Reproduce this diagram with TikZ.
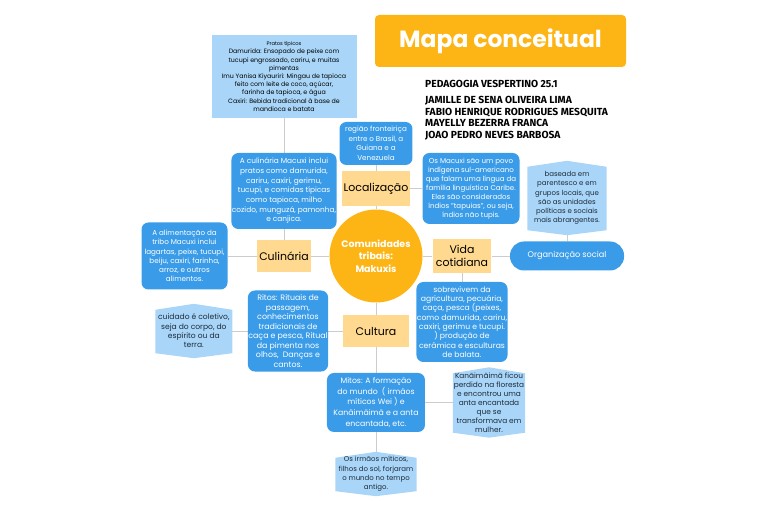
\documentclass[tikz,border=0pt]{standalone}
\usepackage{fontspec}
\setmainfont{Poppins}
\newfontfamily\namefont{Fira Sans}
\usetikzlibrary{backgrounds}

\definecolor{mapblue}{HTML}{3A9CE8}
\definecolor{mappale}{HTML}{A9D6F8}
\definecolor{mapsand}{HTML}{FFD98F}
\definecolor{maporange}{HTML}{FDB515}
\definecolor{mapwire}{HTML}{CCCCCC}
\definecolor{mapink}{HTML}{1D2B3A}

\tikzset{
	wire/.style={draw=mapwire, line width=0.9pt},
	bluebox/.style={fill=mapblue, text=white, rounded corners=7pt, align=center, inner sep=0.5pt, font=\fontsize{7.4}{9.7}\selectfont},
	palebox/.style={text=mapink, align=center, inner sep=0.5pt, font=\fontsize{7}{9.2}\selectfont},
	topicbox/.style={fill=mapsand, text=black, align=center, inner sep=1pt, font=\fontsize{11}{12.5}\selectfont},
}

\begin{document}
\begin{tikzpicture}
		\useasboundingbox (0, 0) rectangle (27.093, 18.062);
		% Title and authors:
		\node[fill=maporange, rounded corners=4pt, minimum width=8.855cm, minimum height=1.834cm, text=white, font=\bfseries\fontsize{23.5}{27}\selectfont] (title) at (17.657, 16.616){Mapa conceitual};
		\node[anchor=west, inner sep=0pt, font=\namefont\bfseries\fontsize{10.3}{12}\selectfont] (course) at (14.993, 15.099){PEDAGOGIA VESPERTINO 25.1};
		\node[anchor=north west, align=left, inner sep=0pt, font=\namefont\bfseries\fontsize{10.3}{12}\selectfont] (names) at (14.993, 14.690){JAMILLE DE SENA OLIVEIRA LIMA\\FABIO HENRIQUE RODRIGUES MESQUITA\\MAYELLY BEZERRA FRANCA\\JOAO PEDRO NEVES BARBOSA};
		% Nodes:
		\node[circle, fill=maporange, minimum size=3.281cm, text=white, align=center, font=\bfseries\fontsize{9.5}{12.5}\selectfont] (hub) at (13.264, 9.031){Comunidades\\tribais:\\Makuxis};
		\node[topicbox, minimum width=2.399cm, minimum height=1.235cm] (local) at (13.264, 11.413){Localização};
		\node[topicbox, minimum width=1.905cm, minimum height=1.129cm] (culinaria) at (10.019, 9.031){Culinária};
		\node[topicbox, minimum width=2.081cm, minimum height=1.199cm] (vida) at (16.298, 9.031){Vida\\cotidiana};
		\node[topicbox, minimum width=2.328cm, minimum height=1.129cm] (cultura) at (13.264, 6.385){Cultura};
		\node[fill=mappale, text=black, align=center, inner sep=0.5pt, minimum width=5.115cm, minimum height=2.928cm, font=\fontsize{6.3}{8.2}\selectfont] (pratos) at (10.019, 15.363){{\fontsize{5.2}{6}\selectfont Pratos típicos}\\Damurida: Ensopado de peixe com\\tucupi engrossado, cariru, e muitas\\pimentas\\Imu Yanisa Kiyauriri: Mingau de tapioca\\feito com leite de coco, açúcar,\\farinha de tapioca, e água\\Caxiri: Bebida tradicional à base de\\mandioca e batata};
		\node[bluebox, minimum width=3.634cm, minimum height=2.681cm] (culbox) at (10.019, 11.324){A culinária Macuxi inclui\\pratos como damurida,\\cariru, caxiri, gerimu,\\tucupi, e comidas típicas\\como tapioca, milho\\cozido, munguzá, pamonha,\\e canjica.};
		\node[bluebox, minimum width=3.034cm, minimum height=2.364cm, font=\fontsize{7.2}{9.3}\selectfont] (aliment) at (6.509, 9.031){A alimentação da\\tribo Macuxi inclui\\lagartas, peixe, tucupi,\\beiju, caxiri, farinha,\\arroz, e outros\\alimentos.};
		\node[bluebox, minimum width=2.575cm, minimum height=1.517cm, font=\fontsize{7.2}{9.6}\selectfont] (regiao) at (13.264, 13.000){região fronteiriça\\entre o Brasil, a\\Guiana e a\\Venezuela};
		\node[bluebox, minimum width=3.422cm, minimum height=2.505cm, font=\fontsize{7.1}{9}\selectfont] (macuxi) at (16.616, 11.413){Os Macuxi são um povo\\indígena sul-americano\\que falam uma língua da\\família linguística Caribe.\\Eles são considerados\\índios "tapuias", ou seja,\\índios não tupis.};
		\node[bluebox, rounded corners=14pt, minimum width=4.022cm, minimum height=1.023cm, font=\fontsize{8.2}{9.5}\selectfont] (org) at (20.003, 9.031){Organização social};
		\node[palebox, minimum width=2.787cm, minimum height=2.611cm] (parentesco) at (20.003, 11.077){baseada em\\parentesco e em\\grupos locais, que\\são as unidades\\políticas e sociais\\mais abrangentes.};
		\node[bluebox, minimum width=3.104cm, minimum height=2.822cm, font=\fontsize{7.7}{9.4}\selectfont] (sobre) at (16.298, 6.703){sobrevivem da\\agricultura, pecuária,\\caça, pesca (peixes,\\como damurida, cariru,\\caxiri, gerimu e tucupi.\\) produção de\\cerâmica e esculturas\\de balata.};
		\node[bluebox, minimum width=2.822cm, minimum height=2.858cm, font=\fontsize{7.9}{9.6}\selectfont] (ritos) at (10.160, 6.385){Ritos: Rituais de\\passagem,\\conhecimentos\\tradicionais de\\caça e pesca, Ritual\\da pimenta nos\\olhos,~ Danças e\\cantos.};
		\node[palebox, minimum width=2.700cm, minimum height=1.905cm, font=\fontsize{7.6}{9.4}\selectfont] (cuidado) at (6.838, 6.385){cuidado é coletivo,\\seja do corpo, do\\espírito ou da\\terra.};
		\node[bluebox, minimum width=3.457cm, minimum height=2.081cm, font=\fontsize{7.8}{10.8}\selectfont] (mitos) at (13.264, 3.863){Mitos: A formação\\do mundo~ ( irmãos\\míticos Wei ) e\\Kanãimãimã e a anta\\encantada, etc.};
		\node[palebox, minimum width=2.540cm, minimum height=2.469cm, font=\fontsize{7.4}{9}\selectfont] (kana) at (17.251, 3.863){Kanãimãimã ficou\\perdido na floresta\\e encontrou uma\\anta encantada\\que se\\transformava em\\mulher.};
		\node[palebox, minimum width=2.858cm, minimum height=1.552cm, font=\fontsize{7}{9.3}\selectfont] (irmaos) at (13.264, 1.341){Os irmãos míticos,\\filhos do sol, forjaram\\o mundo no tempo\\antigo.};
		% Paths and wires:
		\begin{scope}[on background layer]
			\foreach \n in {parentesco, cuidado, kana, irmaos}
				\fill[mappale] ([yshift=-6pt]\n.north west) -- (\n.north) -- ([yshift=-6pt]\n.north east) -- ([yshift=5pt]\n.south east) -- (\n.south) -- ([yshift=5pt]\n.south west) -- cycle;
			\draw[wire] (pratos) -- (culbox) -- (culinaria) -- (hub);
			\draw[wire] (aliment) -- (culinaria);
			\draw[wire] (regiao) -- (local) -- (hub);
			\draw[wire] (local) -- (macuxi);
			\draw[wire] (hub) -- (vida) -- (org);
			\draw[wire] (parentesco) -- (org);
			\draw[wire] (vida) -- (sobre);
			\draw[wire] (hub) -- (cultura) -- (mitos) -- (irmaos);
			\draw[wire] (cultura) -- (ritos) -- (cuidado);
			\draw[wire] (mitos) -- (kana);
		\end{scope}
	\end{tikzpicture}
\end{document}
